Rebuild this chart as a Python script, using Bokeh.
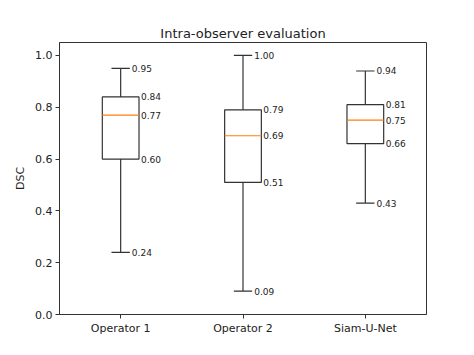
from bokeh.plotting import figure
from bokeh.models import FixedTicker, ColumnDataSource, Range1d
from bokeh.core.properties import value
from bokeh.embed import file_html
from bokeh.resources import INLINE

categories = ["Operator 1", "Operator 2", "Siam-U-Net"]
positions = [1, 2, 3]
whisker_low = [0.24, 0.09, 0.43]
q1 = [0.60, 0.51, 0.66]
median = [0.77, 0.69, 0.75]
q3 = [0.84, 0.79, 0.81]
whisker_high = [0.95, 1.00, 0.94]
y_ticks = [0.0, 0.2, 0.4, 0.6, 0.8, 1.0]

FONT = "DejaVu Sans"
box_w = 0.3
cap_w = 0.15

p = figure(width=458, height=339, output_backend="svg", toolbar_location=None,
           x_range=Range1d(0.5, 3.5), y_range=Range1d(0.0, 1.05),
           title="Intra-observer evaluation")
p.min_border_left = 59
p.min_border_right = 32
p.min_border_top = 42
p.min_border_bottom = 25
p.title.align = "center"
p.title.text_font = FONT
p.title.text_font_size = "13px"
p.title.text_font_style = "normal"
p.title.text_color = "#222222"
p.title.standoff = 4
p.grid.visible = False
p.outline_line_color = "#333333"
p.outline_line_width = 1

for ax in (p.xaxis[0], p.yaxis[0]):
    ax.axis_line_color = "#333333"
    ax.major_tick_line_color = "#333333"
    ax.major_tick_out = 4
    ax.major_tick_in = 0
    ax.minor_tick_line_color = None
    ax.major_label_text_font = FONT
    ax.major_label_text_font_size = "11px"
    ax.major_label_text_color = "#222222"
    ax.major_label_standoff = 3

p.xaxis.ticker = FixedTicker(ticks=positions)
p.xaxis.major_label_overrides = {pos: c for pos, c in zip(positions, categories)}
p.yaxis.ticker = FixedTicker(ticks=y_ticks)
p.yaxis.major_label_overrides = {t: f"{t:.1f}" for t in y_ticks}
p.yaxis.axis_label = "DSC"
p.yaxis.axis_label_text_font = FONT
p.yaxis.axis_label_text_font_size = "11px"
p.yaxis.axis_label_text_font_style = "normal"
p.yaxis.axis_label_text_color = "#222222"
p.yaxis.axis_label_standoff = 5

src = ColumnDataSource(dict(
    x=positions, lo=whisker_low, q1=q1, med=median, q3=q3, hi=whisker_high,
    x0=[x - box_w / 2 for x in positions], x1=[x + box_w / 2 for x in positions],
    c0=[x - cap_w / 2 for x in positions], c1=[x + cap_w / 2 for x in positions],
))

line_col = "#333333"
# whiskers
p.segment(x0="x", y0="lo", x1="x", y1="q1", source=src, line_color=line_col, line_width=1.2)
p.segment(x0="x", y0="q3", x1="x", y1="hi", source=src, line_color=line_col, line_width=1.2)
# caps
p.segment(x0="c0", y0="lo", x1="c1", y1="lo", source=src, line_color=line_col, line_width=1.2)
p.segment(x0="c0", y0="hi", x1="c1", y1="hi", source=src, line_color=line_col, line_width=1.2)
# boxes
p.quad(left="x0", right="x1", bottom="q1", top="q3", source=src,
       fill_color=None, line_color=line_col, line_width=1.2)
# medians
p.segment(x0="x0", y0="med", x1="x1", y1="med", source=src, line_color="#ff7f0e", line_width=1.2)

# annotations
cap_lab = dict(x=[], y=[], t=[])
box_lab = dict(x=[], y=[], t=[])
for i, x in enumerate(positions):
    for v in (whisker_low[i], whisker_high[i]):
        cap_lab["x"].append(x + cap_w / 2)
        cap_lab["y"].append(v)
        cap_lab["t"].append(f"{v:.2f}")
    for v in (q1[i], median[i], q3[i]):
        box_lab["x"].append(x + box_w / 2)
        box_lab["y"].append(v)
        box_lab["t"].append(f"{v:.2f}")

for d in (cap_lab, box_lab):
    p.text(x="x", y="y", text="t", source=ColumnDataSource(d), x_offset=2,
           text_font=value(FONT), text_font_size="9px", text_color="#222222",
           text_baseline="middle", text_align="left")

open("out.html", "w").write(file_html(p, INLINE))
